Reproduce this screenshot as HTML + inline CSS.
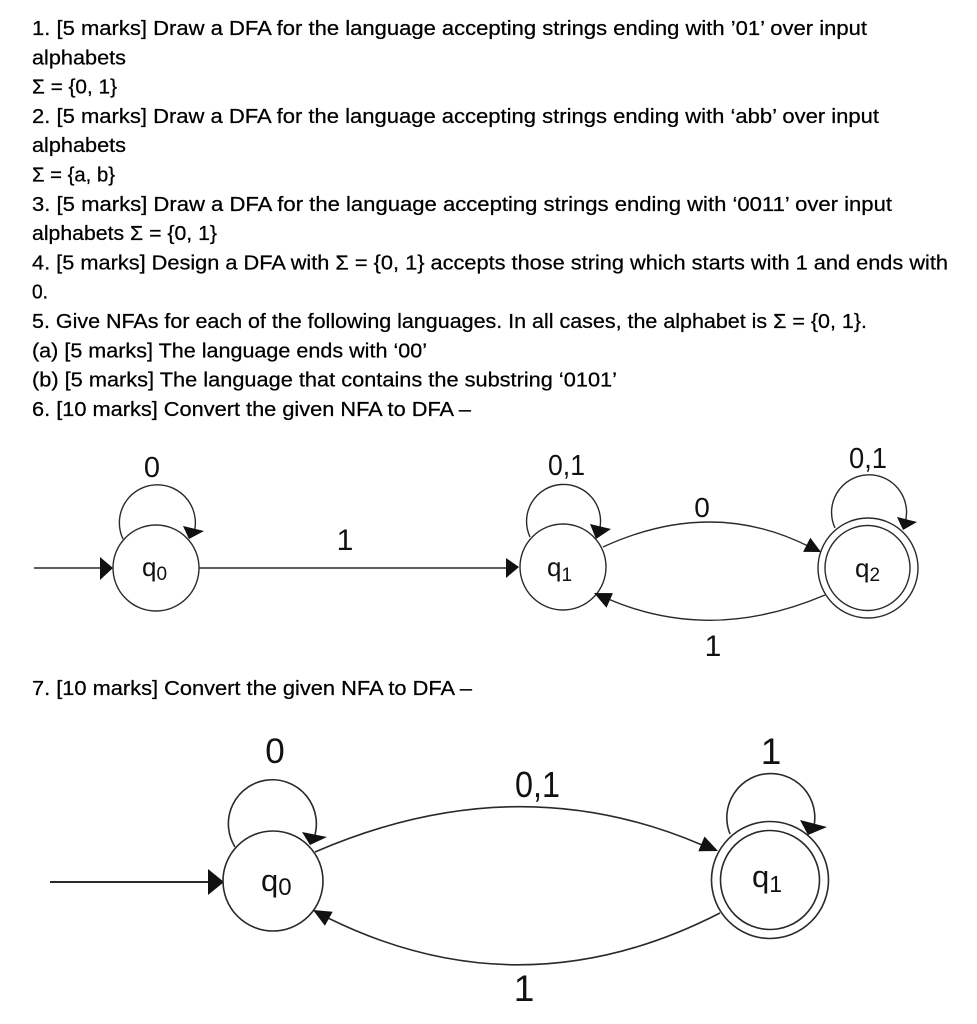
<!DOCTYPE html>
<html>
<head>
<meta charset="utf-8">
<style>
html,body{margin:0;padding:0;background:#fff;}
body{width:977px;height:1024px;overflow:hidden;}
svg{display:block;}
.t{font-family:"Liberation Sans",sans-serif;font-size:20px;fill:#000;stroke:#000;stroke-width:0.25;}
.l{font-family:"Liberation Sans",sans-serif;fill:#111;}
.s{fill:none;stroke:#2a2a2a;}
</style>
</head>
<body>
<svg width="977" height="1024" viewBox="0 0 977 1024" xmlns="http://www.w3.org/2000/svg">
<rect width="977" height="1024" fill="#fff"/>

<!-- Question text -->
<text class="t" x="32" y="35" textLength="835" lengthAdjust="spacingAndGlyphs">1. [5 marks] Draw a DFA for the language accepting strings ending with ’01’ over input</text>
<text class="t" x="32" y="64.3" textLength="94" lengthAdjust="spacingAndGlyphs">alphabets</text>
<text class="t" x="32" y="93.6" textLength="85" lengthAdjust="spacingAndGlyphs">Σ = {0, 1}</text>
<text class="t" x="32" y="122.9" textLength="847" lengthAdjust="spacingAndGlyphs">2. [5 marks] Draw a DFA for the language accepting strings ending with ‘abb’ over input</text>
<text class="t" x="32" y="152.2" textLength="94" lengthAdjust="spacingAndGlyphs">alphabets</text>
<text class="t" x="32" y="181.5" textLength="83" lengthAdjust="spacingAndGlyphs">Σ = {a, b}</text>
<text class="t" x="32" y="210.8" textLength="860" lengthAdjust="spacingAndGlyphs">3. [5 marks] Draw a DFA for the language accepting strings ending with ‘0011’ over input</text>
<text class="t" x="32" y="240.1" textLength="185" lengthAdjust="spacingAndGlyphs">alphabets Σ = {0, 1}</text>
<text class="t" x="32" y="269.4" textLength="916" lengthAdjust="spacingAndGlyphs">4. [5 marks] Design a DFA with Σ = {0, 1} accepts those string which starts with 1 and ends with</text>
<text class="t" x="32" y="298.7" textLength="16" lengthAdjust="spacingAndGlyphs">0.</text>
<text class="t" x="32" y="328" textLength="835" lengthAdjust="spacingAndGlyphs">5. Give NFAs for each of the following languages. In all cases, the alphabet is Σ = {0, 1}.</text>
<text class="t" x="32" y="357.3" textLength="395" lengthAdjust="spacingAndGlyphs">(a) [5 marks] The language ends with ‘00’</text>
<text class="t" x="32" y="386.6" textLength="585" lengthAdjust="spacingAndGlyphs">(b) [5 marks] The language that contains the substring ‘0101’</text>
<text class="t" x="32" y="415.9" textLength="439" lengthAdjust="spacingAndGlyphs">6. [10 marks] Convert the given NFA to DFA –</text>
<text class="t" x="32" y="695" textLength="440" lengthAdjust="spacingAndGlyphs">7. [10 marks] Convert the given NFA to DFA –</text>

<!-- ===== Diagram 1 ===== -->
<g stroke-width="1.4">
  <line class="s" x1="34" y1="568" x2="102" y2="568" stroke-width="1.6"/>
  <polygon points="100,557 113,568 100,580" fill="#111"/>
  <circle class="s" cx="156" cy="568" r="43"/>
  <path class="s" d="M123,539 A38,38 0 1,1 193,536"/>
  <polygon points="183,526 204,531 189,539" fill="#111"/>
  <line class="s" x1="199" y1="568" x2="508" y2="568"/>
  <polygon points="506,558 519,567 506,578" fill="#111"/>
  <circle class="s" cx="563" cy="567" r="43"/>
  <path class="s" d="M530,537 A37,37 0 1,1 599,532"/>
  <polygon points="590,524 611,529 596,539" fill="#111"/>
  <path class="s" d="M603,547 Q712,497 810,547"/>
  <polygon points="821,552 810.3,537.7 803.1,551.9" fill="#111"/>
  <path class="s" d="M825,595 Q710,644 606,598"/>
  <polygon points="594,593 612.9,593.1 606.5,607.7" fill="#111"/>
  <circle class="s" cx="868" cy="568" r="50"/>
  <circle class="s" cx="867.5" cy="568" r="42.5"/>
  <path class="s" d="M835,528 A37.5,37.5 0 1,1 905,523"/>
  <polygon points="897,517 917,522 903,530" fill="#111"/>
</g>
<text class="l" x="152" y="477" font-size="29" text-anchor="middle">0</text>
<text class="l" x="345" y="550" font-size="30" text-anchor="middle">1</text>
<text class="l" x="548" y="475" font-size="29" textLength="37" lengthAdjust="spacingAndGlyphs">0,1</text>
<text class="l" x="849" y="468" font-size="29" textLength="38" lengthAdjust="spacingAndGlyphs">0,1</text>
<text class="l" x="702" y="517" font-size="28" text-anchor="middle">0</text>
<text class="l" x="713" y="656" font-size="30" text-anchor="middle">1</text>
<text class="l" x="142" y="576" font-size="26">q<tspan font-size="19" dy="4">0</tspan></text>
<text class="l" x="547" y="576" font-size="26">q<tspan font-size="19" dy="5">1</tspan></text>
<text class="l" x="855" y="577" font-size="26">q<tspan font-size="19" dy="4">2</tspan></text>

<!-- ===== Diagram 2 ===== -->
<g stroke-width="1.6">
  <line class="s" x1="50" y1="882" x2="210" y2="882" stroke-width="2"/>
  <polygon points="208,869 224,882 208,895" fill="#111"/>
  <circle class="s" cx="273" cy="881" r="50"/>
  <path class="s" d="M235,847 A44,44 0 1,1 314,838"/>
  <polygon points="302,832 327,837 310,845" fill="#111"/>
  <path class="s" d="M315,852 Q516,765 702,845"/>
  <polygon points="718,851 698.3,851.3 704.5,836.5" fill="#111"/>
  <path class="s" d="M720,913 Q523,1014 328,918"/>
  <polygon points="313,910 332.7,911.7 324.9,925.7" fill="#111"/>
  <circle class="s" cx="770" cy="880" r="58.5"/>
  <circle class="s" cx="770" cy="880" r="49.5"/>
  <path class="s" d="M730,834 A44,44 0 1,1 812,833"/>
  <polygon points="800,820 827,827 808,835" fill="#111"/>
</g>
<text class="l" x="275" y="763" font-size="35" text-anchor="middle">0</text>
<text class="l" x="515" y="797" font-size="36" textLength="45" lengthAdjust="spacingAndGlyphs">0,1</text>
<text class="l" x="771" y="764" font-size="37" text-anchor="middle">1</text>
<text class="l" x="524" y="1001" font-size="37" text-anchor="middle">1</text>
<text class="l" x="261" y="891" font-size="31">q<tspan font-size="24" dy="4">0</tspan></text>
<text class="l" x="752" y="887" font-size="31">q<tspan font-size="23" dy="5">1</tspan></text>
</svg>
</body>
</html>
